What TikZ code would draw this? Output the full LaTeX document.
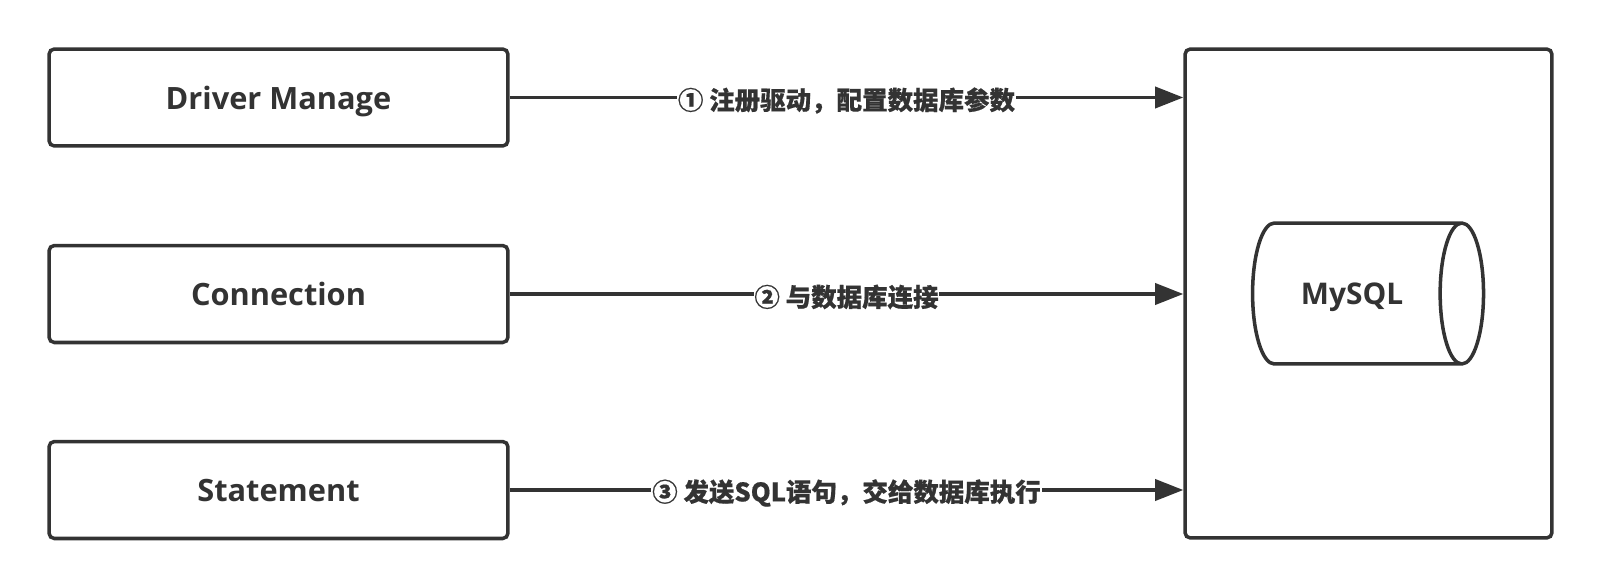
\documentclass[tikz,border=0pt]{standalone}
\usepackage{fontspec}
\setmainfont{Open Sans}
\newfontfamily\cjkfont{Noto Sans CJK SC}[BoldFeatures={FakeBold=0.6}]
\usetikzlibrary{arrows.meta,shapes.geometric}
\definecolor{ink}{HTML}{333333}
\tikzset{
  box/.style={draw=ink, line width=2pt, rounded corners=3pt, minimum width=9.18cm, minimum height=1.94cm, text depth=0pt, font=\bfseries\fontsize{17.5}{20}\selectfont, text=ink},
  link/.style={draw=ink, line width=2pt, -{Triangle[length=16pt,width=12pt]}},
  linklabel/.style={fill=white, inner sep=0.5pt, yshift=-0.06cm, font=\cjkfont\bfseries\fontsize{14.5}{17}\selectfont, text=ink}
}
\begin{document}
\begin{tikzpicture}[x=0.02cm, y=-0.02cm]
                \useasboundingbox (0,0) rectangle (1602,588);
                \node[box] (driver) at (278.5,97.5) {Driver Manage};
                \node[box] (conn) at (278.5,294) {Connection};
                \node[box] (stmt) at (278.5,490) {Statement};
                \node[draw=ink, line width=2pt, rounded corners=3pt, minimum width=7.34cm, minimum height=9.78cm] (server) at (1368.5,293.5) {};
                \node[cylinder, draw=ink, line width=2pt, aspect=1.3, minimum width=2.82cm, minimum height=4.62cm, text depth=0pt, font=\bfseries\fontsize{17}{20}\selectfont, text=ink] (mysql) at (1352,293.5) {MySQL};
                \draw[link] (driver.east) -- node[linklabel] {① 注册驱动，配置数据库参数} (driver.east -| server.west);
                \draw[link] (conn.east) -- node[linklabel] {② 与数据库连接} (conn.east -| server.west);
                \draw[link] (stmt.east) -- node[linklabel] {③ 发送SQL语句，交给数据库执行} (stmt.east -| server.west);
            \end{tikzpicture}
\end{document}
